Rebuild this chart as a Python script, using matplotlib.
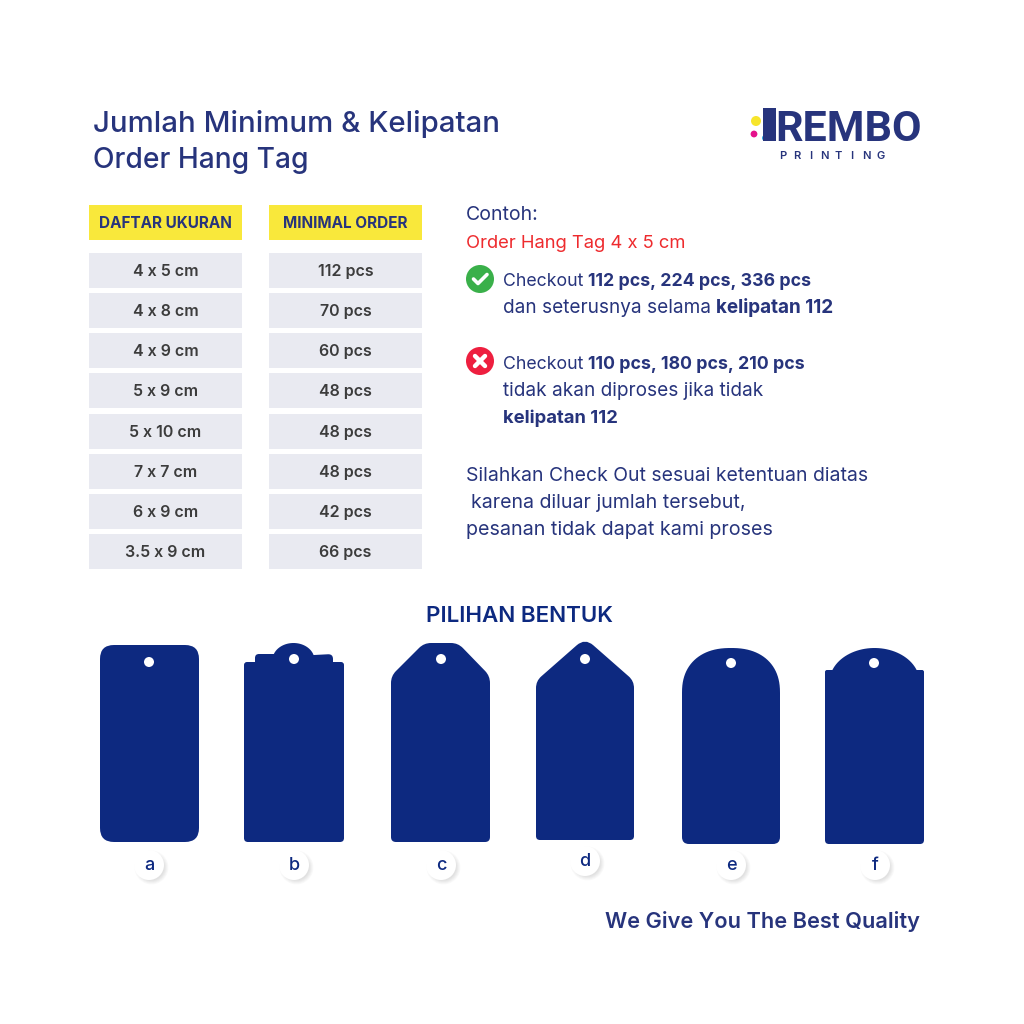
import numpy as np
import matplotlib
matplotlib.use("Agg")
import matplotlib.pyplot as plt
from matplotlib.path import Path
from matplotlib.patches import PathPatch, Circle, Rectangle

sizes = ["4 x 5 cm", "4 x 8 cm", "4 x 9 cm", "5 x 9 cm", "5 x 10 cm", "7 x 7 cm", "6 x 9 cm", "3.5 x 9 cm"]
orders = ["112 pcs", "70 pcs", "60 pcs", "48 pcs", "48 pcs", "48 pcs", "42 pcs", "66 pcs"]
row_tops = [253, 293, 333, 373, 414, 454, 494, 534]
tag_labels = ["a", "b", "c", "d", "e", "f"]
badge_x = [149, 294, 441, 585, 731, 875]
badge_y = [865, 865, 865, 861, 865, 865]
hole_xy = [(149, 662), (294, 659), (441, 659), (585, 659), (731, 663), (874, 663)]

NAVY = "#27347C"
DEEP = "#0D2980"
FONT = "Inter"

plt.rcParams["font.family"] = [FONT, "DejaVu Sans"]
fig = plt.figure(figsize=(10.24, 10.24), dpi=100, facecolor="white")
ax = fig.add_axes([0, 0, 1, 1])
ax.set_xlim(0, 1024)
ax.set_ylim(1024, 0)
ax.axis("off")
rend = fig.canvas.get_renderer()


def runs(x, y, parts, x_end=None, size=None, color=NAVY):
    """parts: list of (text, weight). Fit the run to x..x_end when x_end is given."""
    size = size or 14
    def widths(sz):
        out = []
        for s, w in parts:
            t = ax.text(0, 0, s.replace(" ", "\u00a0"), fontsize=sz, fontweight=w)
            out.append(t.get_window_extent(rend).width)
            t.remove()
        return out
    if x_end is not None:
        size = size * (x_end - x) / sum(widths(size))
    cur = x
    for (s, w), wd in zip(parts, widths(size)):
        ax.text(cur, y, s.replace(" ", "\u00a0"), fontsize=size, fontweight=w, color=color,
                va="baseline", ha="left")
        cur += wd


def centered(cx, y, s, weight, size, color):
    ax.text(cx, y, s, fontsize=size, fontweight=weight, color=color, ha="center", va="baseline")


# Heading
runs(93, 132, [("Jumlah Minimum & Kelipatan", "medium")], 498)
runs(93, 168, [("Order Hang Tag", "medium")], 308)

# Logo
ax.add_patch(Circle((756, 121), 5, fc="#F7E52B", ec="none"))
ax.add_patch(Circle((754, 134), 3.4, fc="#E5128C", ec="none"))
ax.add_patch(Circle((765, 138), 3, fc="#27A9E1", ec="none"))
ax.add_patch(Rectangle((763, 108), 13, 33, fc=NAVY, ec="none"))
ax.text(775, 141, "REMBO", fontsize=31, fontweight="bold", color=NAVY, va="baseline", ha="left",
        family=["Roboto", "Liberation Sans"])
for ch, cx in zip("PRINTING", [783, 797, 811, 824, 838, 852, 866, 881]):
    centered(cx, 159, ch, "semibold", 8, NAVY)

# Table
for x0, head, col, in [(88.5, "DAFTAR UKURAN", sizes), (268.5, "MINIMAL ORDER", orders)]:
    ax.add_patch(Rectangle((x0, 205), 153.5, 35, fc="#F9E83B", ec="none"))
    centered(x0 + 77, 228, head, "bold", 11.0, NAVY)
    for top, s in zip(row_tops, col):
        ax.add_patch(Rectangle((x0, top), 153.5, 35, fc="#E9EAF1", ec="none"))
        centered(x0 + 77, top + 23, s, "semibold", 11.5, "#3C3C3C")

# Example text
runs(466, 220, [("Contoh:", "normal")], 539)
runs(466, 248, [("Order Hang Tag 4 x 5 cm", "normal")], 687, color="#EE2B2E")
ax.add_patch(Circle((480, 279), 14, fc="#3AB04A", ec="none"))
ax.plot([473.5, 478, 487], [279, 283.5, 274.5], color="white", lw=2.6, solid_capstyle="round", solid_joinstyle="round")
runs(503, 286, [("Checkout ", "normal"), ("112 pcs, 224 pcs, 336 pcs", "bold")], 811)
runs(503, 313, [("dan seterusnya selama ", "normal"), ("kelipatan 112", "bold")], 834)
ax.add_patch(Circle((480, 361), 14, fc="#EE1F3F", ec="none"))
ax.plot([475, 485], [356, 366], color="white", lw=3.2, solid_capstyle="round")
ax.plot([475, 485], [366, 356], color="white", lw=3.2, solid_capstyle="round")
runs(503, 369, [("Checkout ", "normal"), ("110 pcs, 180 pcs, 210 pcs", "bold")], 805)
runs(503, 396, [("tidak akan diproses jika tidak", "normal")], 763)
runs(503, 423, [("kelipatan 112", "bold")], 618)
runs(466, 481, [("Silahkan Check Out sesuai ketentuan diatas", "normal")], 868)
runs(471, 508, [("karena diluar jumlah tersebut,", "normal")], 746)
runs(466, 535, [("pesanan tidak dapat kami proses", "normal")], 774)

runs(426, 622, [("PILIHAN BENTUK", "semibold")], 612, color=DEEP)
runs(605, 928, [("We Give You The Best Quality", "semibold")], 919, color=NAVY)


def arc(cx, cy, rx, ry, a0, a1, n=30, p=2.0):
    out = []
    for t in np.radians(np.linspace(a0, a1, n)):
        c, s = np.cos(t), np.sin(t)
        out.append((cx + rx * np.sign(c) * abs(c) ** (2 / p), cy - ry * np.sign(s) * abs(s) ** (2 / p), 0))
    return out


def rounded(pts):
    verts, codes = [], []
    n = len(pts)
    for i, (x, y, r) in enumerate(pts):
        p = np.array([x, y], float)
        if r == 0:
            codes.append(Path.LINETO if verts else Path.MOVETO)
            verts.append(p)
            continue
        a = np.array(pts[i - 1][:2], float)
        b = np.array(pts[(i + 1) % n][:2], float)
        s = p + (a - p) / np.linalg.norm(a - p) * r
        e = p + (b - p) / np.linalg.norm(b - p) * r
        codes.append(Path.LINETO if verts else Path.MOVETO)
        verts.append(s)
        verts += [p, e]
        codes += [Path.CURVE3, Path.CURVE3]
    verts.append(verts[0])
    codes.append(Path.CLOSEPOLY)
    return Path(verts, codes)


outlines = [
    [(100, 842, 14), (100, 645, 14), (199, 645, 14), (199, 842, 14)],
    [(244, 842, 4), (244, 662, 3), (255, 662, 0), (255, 654, 4), (274, 654, 0)]
    + arc(293.5, 660, 21, 17, 163, 17)
    + [(333, 654, 5), (333, 662, 0), (344, 662, 3), (344, 842, 4)],
    [(391, 842, 5), (391, 676, 7), (424, 643, 7), (458, 643, 7), (490, 676, 7), (490, 842, 5)],
    [(536, 840, 4), (536, 681, 7), (585, 638, 11), (634, 681, 7), (634, 840, 4)],
    [(682, 844, 7), (682, 693, 0)] + arc(731, 693, 49, 45, 180, 0, 50, p=2.3) + [(780, 844, 7)],
    [(825, 844, 4), (825, 670, 2), (832, 670, 0)]
    + arc(874.5, 682, 45, 34, 159.3, 20.7, 40)
    + [(917, 670, 0), (924, 670, 2), (924, 844, 4)],
]
for pts in outlines:
    ax.add_patch(PathPatch(rounded(pts), fc=DEEP, ec="none"))
for xy in hole_xy:
    ax.add_patch(Circle(xy, 5, fc="white", ec="none"))

# Letter badges with a soft shadow
for lab, bx, by in zip(tag_labels, badge_x, badge_y):
    for k in range(6):
        ax.add_patch(Circle((bx + 2.5, by + 2.5), 17 - k * 0.8, fc="#000000", alpha=0.018, ec="none"))
    ax.add_patch(Circle((bx, by), 15, fc="white", ec="none"))
    centered(bx, by + 5.5, lab, "medium", 13, DEEP)

fig.savefig("out.png", dpi=100, facecolor="white")
